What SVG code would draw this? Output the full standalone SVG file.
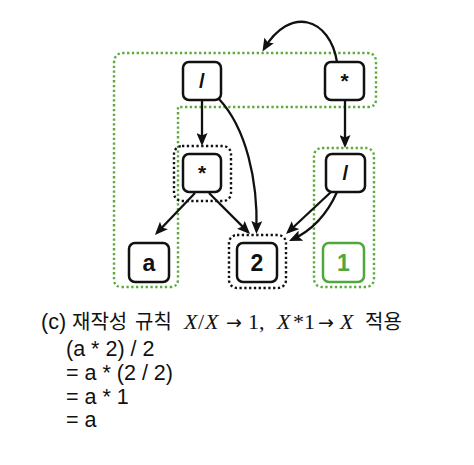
<svg xmlns="http://www.w3.org/2000/svg" width="474" height="465" viewBox="0 0 474 465">
<defs>
<style>
.box{fill:#fff;stroke:#111;stroke-width:2.5}
.gbox{fill:#fff;stroke:#4fa83d;stroke-width:2.5}
.lbl{font-family:"Liberation Sans",Arial,sans-serif;font-weight:bold;font-size:21px;text-anchor:middle;fill:#111}
.lbl2{font-family:"Liberation Sans",Arial,sans-serif;font-weight:bold;font-size:23px;text-anchor:middle;fill:#111}
.glbl{font-family:"Liberation Sans",Arial,sans-serif;font-weight:bold;font-size:23px;text-anchor:middle;fill:#4fa83d}
.gdot{fill:none;stroke:#5aab3a;stroke-width:2.4;stroke-dasharray:2.3 2.5}
.kdot{fill:none;stroke:#111;stroke-width:2.4;stroke-dasharray:2.3 2.5}
.edge{fill:none;stroke:#111;stroke-width:2.3}
.txt{font-family:"Liberation Sans",Arial,sans-serif;font-size:21.5px;fill:#111}
.ko{font-family:"Noto Sans CJK KR",sans-serif;font-size:20px;fill:#111}
.mi{font-family:"Liberation Serif","Times New Roman",serif;font-style:italic;font-size:22px;fill:#111}
.mr{font-family:"Liberation Serif","Times New Roman",serif;font-size:22px;fill:#111}
.ar{font-family:"DejaVu Sans",sans-serif;font-size:19px;fill:#111}
</style>
<marker id="ah" viewBox="0 0 13 11" refX="10" refY="5.5" markerWidth="13" markerHeight="11" markerUnits="userSpaceOnUse" orient="auto">
<path d="M0,0 L13,5.5 L0,11 L2.5,5.5 z" fill="#111"/>
</marker>
</defs>

<g id="groups">
<path class="gdot" d="M114,63 Q114,53 124,53 H367 Q376,53 376,62 V99 Q376,107 368,107 H178 V279 Q178,287 170,287 H122 Q114,287 114,279 Z"/>
<rect class="gdot" x="314" y="148" width="60" height="139" rx="8"/>
<rect class="kdot" x="174" y="146" width="57" height="55" rx="8"/>
<rect class="kdot" x="229" y="235" width="57" height="53" rx="8"/>
</g>

<g id="connectors">
<path class="edge" marker-end="url(#ah)" d="M337,62 C330,18 290,5 264,49"/>
<path class="edge" marker-end="url(#ah)" d="M202,100 V143"/>
<path class="edge" marker-end="url(#ah)" d="M219,99 C246,128 258,180 256.5,231"/>
<path class="edge" marker-end="url(#ah)" d="M345,100 V145"/>
<path class="edge" marker-end="url(#ah)" d="M195,193 L157,232.8"/>
<path class="edge" marker-end="url(#ah)" d="M209,193 L247.9,231.9"/>
<path class="edge" marker-end="url(#ah)" d="M331,192 L288.2,232"/>
<path class="edge" marker-end="url(#ah)" d="M337,192 Q322,226 291.7,239.8"/>
</g>

<g id="n_div1"><rect class="box" x="183" y="62" width="38" height="38" rx="6"/><text class="lbl" x="202" y="88">/</text></g>
<g id="n_mul1"><rect class="box" x="325" y="62" width="39" height="38" rx="6"/><text class="lbl" x="344.5" y="88">*</text></g>
<g id="n_mul2"><rect class="box" x="183" y="154" width="38" height="38" rx="6"/><text class="lbl" x="202" y="180">*</text></g>
<g id="n_div2"><rect class="box" x="326" y="154" width="39" height="38" rx="6"/><text class="lbl" x="345.5" y="180">/</text></g>
<g id="n_a"><rect class="box" x="129" y="243" width="40" height="39" rx="6"/><text class="lbl2" x="149" y="270.5">a</text></g>
<g id="n_2"><rect class="box" x="237" y="243" width="40" height="39" rx="6"/><text class="lbl2" x="257" y="270.5">2</text></g>
<g id="n_1"><rect class="gbox" x="323" y="243" width="41" height="39" rx="6"/><text class="glbl" x="343.5" y="270.5">1</text></g>

<g id="caption">
<text class="txt" x="41" y="329">(c)</text>
<text class="ko" x="72" y="329">재작성</text>
<text class="ko" x="135" y="329">규칙</text>
<text class="mi" x="184" y="329">X</text>
<text class="mr" x="198" y="329">/</text>
<text class="mi" x="205" y="329">X</text>
<text class="ar" x="226" y="329">→</text>
<text class="mr" x="248" y="329">1,</text>
<text class="mi" x="277" y="329">X</text>
<text class="mr" x="293" y="329">*</text>
<text class="mr" x="304" y="329">1</text>
<text class="ar" x="318" y="329">→</text>
<text class="mi" x="340" y="329">X</text>
<text class="ko" x="365" y="329">적용</text>
<text class="txt" x="66" y="355.5">(a * 2) / 2</text>
<text class="txt" x="66" y="380">= a * (2 / 2)</text>
<text class="txt" x="66" y="403.5">= a * 1</text>
<text class="txt" x="66" y="427">= a</text>
</g>
</svg>
